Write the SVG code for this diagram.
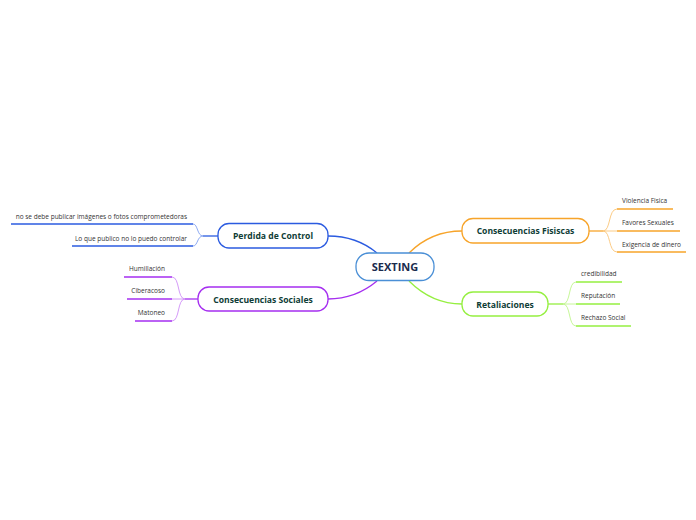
<svg xmlns="http://www.w3.org/2000/svg" width="696" height="520" viewBox="0 0 696 520">
<style>
.main{fill:#ffffff;stroke-width:1.3}
.mt{font-family:"Open Sans","Noto Sans",sans-serif;font-weight:700;fill:#0f3d36;font-size:8.6px;text-anchor:middle}
.ct{font-family:"Open Sans","Noto Sans",sans-serif;font-weight:700;fill:#1a2b4d;font-size:11px;text-anchor:middle}
.lt{font-family:"Open Sans","Noto Sans",sans-serif;fill:#333333;font-size:6.5px}
.c{fill:none;stroke-width:1.3}
.u{fill:none;stroke-width:1.6}
.s{fill:none;stroke-width:0.9}
</style>
<rect width="696" height="520" fill="#ffffff"/>
<g id="connectors">
<path class="c" stroke="#2b5be0" d="M377,253 C365,243 350,236 328,236"/>
<path class="c" stroke="#a52ef0" d="M377,281 C365,291 350,299 328,299"/>
<path class="c" stroke="#f7a42a" d="M409,253 C422,240 440,231 462,231"/>
<path class="c" stroke="#95ef40" d="M409,281 C422,294 440,304 462,304"/>
<path class="c" stroke="#f7a42a" d="M589,231 L603,231"/>
<path class="s" stroke="#fbc577" d="M603,231 C611,231 608,209 617,209"/>
<path class="s" stroke="#fbc577" d="M603,231 L617,231"/>
<path class="s" stroke="#fbc577" d="M603,231 C611,231 608,252 617,252"/>
<path class="c" stroke="#95ef40" d="M548,304 L563,304"/>
<path class="s" stroke="#bff58c" d="M563,304 C571,304 568,282 576,282"/>
<path class="s" stroke="#bff58c" d="M563,304 L576,304"/>
<path class="s" stroke="#bff58c" d="M563,304 C571,304 568,326 576,326"/>
<path class="c" stroke="#2b5be0" d="M218,236 L203,236"/>
<path class="s" stroke="#7f9ff0" d="M203,236 C197,236 198,224 193,224"/>
<path class="s" stroke="#7f9ff0" d="M203,236 C197,236 198,246 193,246"/>
<path class="c" stroke="#a52ef0" d="M198,299 L185,299"/>
<path class="s" stroke="#cf8ff7" d="M185,299 C177,299 180,277 172,277"/>
<path class="s" stroke="#cf8ff7" d="M185,299 L172,299"/>
<path class="s" stroke="#cf8ff7" d="M185,299 C177,299 180,321 172,321"/>
</g>
<g id="n-sexting">
<rect class="main" x="356" y="253" width="78" height="27.5" rx="13" stroke="#4a8fd6"/>
<text class="ct" x="395" y="271">SEXTING</text>
</g>
<g id="n-fisicas">
<rect class="main" x="462" y="218.5" width="127" height="24.5" rx="11" stroke="#f7a42a"/>
<text class="mt" x="525.5" y="234">Consecuencias Fisiscas</text>
</g>
<g id="n-retaliaciones">
<rect class="main" x="462" y="292" width="86" height="24" rx="11" stroke="#95ef40"/>
<text class="mt" x="505" y="307.5">Retaliaciones</text>
</g>
<g id="n-perdida">
<rect class="main" x="218" y="223.5" width="110" height="24.5" rx="11" stroke="#2b5be0"/>
<text class="mt" x="273" y="239">Perdida de Control</text>
</g>
<g id="n-sociales">
<rect class="main" x="198" y="287" width="130" height="24" rx="11" stroke="#a52ef0"/>
<text class="mt" x="263" y="302.5">Consecuencias Sociales</text>
</g>
<g id="l-violencia">
<path class="u" stroke="#f7a42a" d="M617,209 L673,209"/>
<text class="lt" x="622" y="203">Violencia Fisica</text>
</g>
<g id="l-favores">
<path class="u" stroke="#f7a42a" d="M617,231 L680,231"/>
<text class="lt" x="622" y="225">Favores Sexuales</text>
</g>
<g id="l-exigencia">
<path class="u" stroke="#f7a42a" d="M617,252 L686,252"/>
<text class="lt" x="622" y="246.5">Exigencia de dinero</text>
</g>
<g id="l-credibilidad">
<path class="u" stroke="#95ef40" d="M576,282 L622,282"/>
<text class="lt" x="581" y="276">credibilidad</text>
</g>
<g id="l-reputacion">
<path class="u" stroke="#95ef40" d="M576,304 L620,304"/>
<text class="lt" x="581" y="298">Reputación</text>
</g>
<g id="l-rechazo">
<path class="u" stroke="#95ef40" d="M576,326 L631,326"/>
<text class="lt" x="581" y="320">Rechazo Social</text>
</g>
<g id="l-nosedebe">
<path class="u" stroke="#2b5be0" d="M11,224 L193,224"/>
<text class="lt" x="187" y="218.5" text-anchor="end">no se debe publicar imágenes o fotos comprometedoras</text>
</g>
<g id="l-loque">
<path class="u" stroke="#2b5be0" d="M72,246 L193,246"/>
<text class="lt" x="187" y="240.5" text-anchor="end">Lo que publico no lo puedo controlar</text>
</g>
<g id="l-humillacion">
<path class="u" stroke="#a52ef0" d="M124,277 L172,277"/>
<text class="lt" x="165" y="271" text-anchor="end">Humillación</text>
</g>
<g id="l-ciberacoso">
<path class="u" stroke="#a52ef0" d="M127,299 L172,299"/>
<text class="lt" x="165" y="293" text-anchor="end">Ciberacoso</text>
</g>
<g id="l-matoneo">
<path class="u" stroke="#a52ef0" d="M135,321 L172,321"/>
<text class="lt" x="165" y="315" text-anchor="end">Matoneo</text>
</g>
</svg>
